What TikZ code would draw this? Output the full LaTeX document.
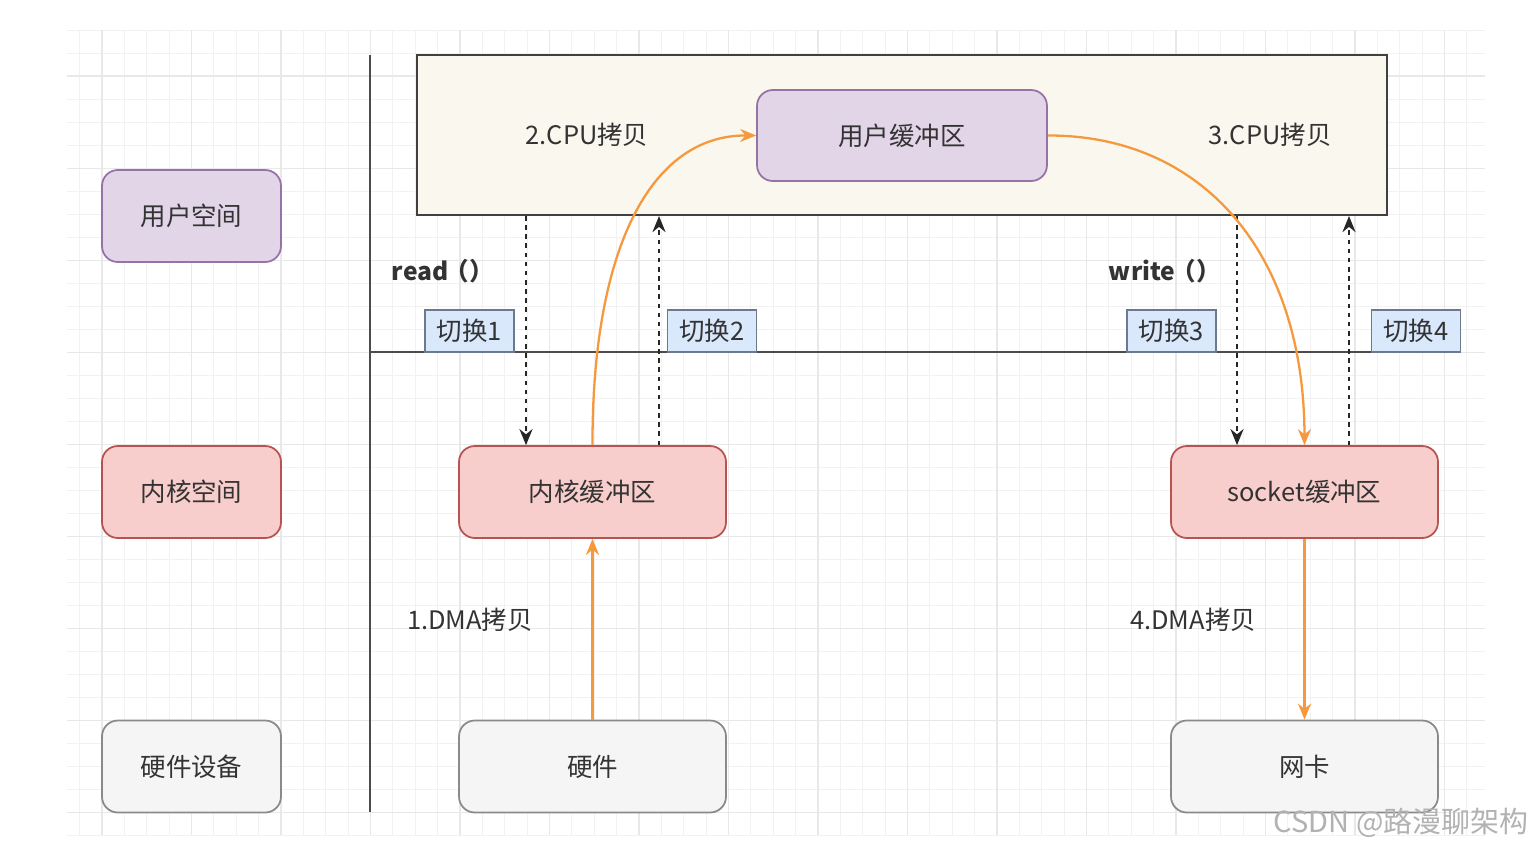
\documentclass[tikz,border=0pt]{standalone}
\usepackage{fontspec}
\setmainfont{Noto Sans CJK SC}
\usepackage{tikz}
\usetikzlibrary{arrows.meta}
\tikzset{>={Stealth[length=3.2mm,width=2.6mm]}}
\definecolor{userfill}{HTML}{E1D5E7}
\definecolor{userdraw}{HTML}{9673A6}
\definecolor{kernfill}{HTML}{F8CECC}
\definecolor{kerndraw}{HTML}{B85450}
\definecolor{hwfill}{HTML}{F5F5F5}
\definecolor{hwdraw}{HTML}{8A8A8A}
\definecolor{swfill}{HTML}{DAE8FC}
\definecolor{swdraw}{HTML}{6C7A8F}
\definecolor{bigfill}{HTML}{F9F7EE}
\definecolor{copyorange}{RGB}{246,152,60}
\definecolor{txt}{HTML}{333333}
\tikzset{
  box/.style={draw, rounded corners=9pt, line width=1pt, minimum height=1.84cm,
    font=\fontsize{14.5}{17}\selectfont, text=txt},
  userbox/.style={box, fill=userfill, draw=userdraw},
  kernbox/.style={box, fill=kernfill, draw=kerndraw},
  hwbox/.style={box, fill=hwfill, draw=hwdraw},
  swbox/.style={draw=swdraw, fill=swfill, line width=0.9pt, anchor=south,
    minimum width=1.78cm, minimum height=0.84cm, inner sep=0pt,
    font=\fontsize{14.5}{17}\selectfont, text=txt},
  lbl/.style={font=\fontsize{14.5}{17}\selectfont, text=txt},
  copyarrow/.style={->, draw=copyorange, line width=1.3pt},
  ctxarrow/.style={->, dash pattern=on 2.6pt off 2.6pt, line width=1.5pt, draw=black!85},
  minorgrid/.style={draw=black!5, line width=0.5pt},
  majorgrid/.style={draw=black!9, line width=0.6pt}
}

\begin{document}
\begin{tikzpicture}[x=0.02cm, y=-0.02cm]
\useasboundingbox (0,0) rectangle (1534,850);
\fill[white] (0,0) rectangle (1534,850);
% background grid
\foreach \i in {0,...,62}
    {\draw[minorgrid] ({79.6+22.375*\i},30) -- ({79.6+22.375*\i},835);}
\foreach \j in {0,...,35}
    {\draw[minorgrid] (67,{30+23.02*\j}) -- (1485,{30+23.02*\j});}
\foreach \i in {0,...,15}
    {\draw[majorgrid] ({102+89.5*\i},30) -- ({102+89.5*\i},835);}
\foreach \j in {0,...,8}
    {\draw[majorgrid] (67,{76+92.1*\j}) -- (1485,{76+92.1*\j});}

% axes
\draw[black!70, line width=1.3pt] (370,55) -- (370,812);
\draw[black!70, line width=1.3pt] (370,352) -- (1460,352);

% left column
\node[userbox, minimum width=3.58cm] (usr) at (191.5,216) {用户空间};
\node[kernbox, minimum width=3.58cm] (krn) at (191.5,492) {内核空间};
\node[hwbox, minimum width=3.58cm] (hwd) at (191.5,766.5) {硬件设备};

% user space frame
\node[draw=black!75, fill=bigfill, line width=1.2pt, minimum width=19.4cm,
    minimum height=3.2cm, inner sep=0pt] (ubox) at (902,135) {};
\node[userbox, minimum width=5.8cm, minimum height=1.82cm] (ubuf) at (902,135.5) {用户缓冲区};

% kernel and hardware
\node[kernbox, minimum width=5.34cm] (kbuf) at (592.5,492) {内核缓冲区};
\node[kernbox, minimum width=5.34cm] (sbuf) at (1304.5,492) {socket缓冲区};
\node[hwbox, minimum width=5.34cm] (hw) at (592.5,766.5) {硬件};
\node[hwbox, minimum width=5.34cm] (nic) at (1304.5,766.5) {网卡};

% context switches
\foreach \n/\x in {1/469.5, 2/712, 3/1171.5, 4/1416}
    {\node[swbox] (sw\n) at (\x,353) {切换\n};}

% labels
\node[lbl] (l2) at (587,135) {2.CPU拷贝};
\node[lbl] (l3) at (1270,135) {3.CPU拷贝};
\node[lbl, font=\fontsize{14}{17}\selectfont\bfseries] (rd) at (443,271) {read\hspace{-2pt}（）};
\node[lbl, font=\fontsize{14}{17}\selectfont\bfseries] (wr) at (1165,271) {write\hspace{-2pt}（）};
\node[lbl] (l1) at (470,620) {1.DMA拷贝};
\node[lbl] (l4) at (1193,620) {4.DMA拷贝};

% switch arrows
\coordinate (c1) at (526,0);
\coordinate (c2) at (659,0);
\coordinate (c3) at (1237,0);
\coordinate (c4) at (1349,0);
\draw[ctxarrow] (ubox.south -| c1) -- (kbuf.north -| c1);
\draw[ctxarrow] (kbuf.north -| c2) -- (ubox.south -| c2);
\draw[ctxarrow] (ubox.south -| c3) -- (sbuf.north -| c3);
\draw[ctxarrow] (sbuf.north -| c4) -- (ubox.south -| c4);

% copies
\draw[copyarrow] (hw.north) -- (kbuf.south);
\draw[copyarrow] (kbuf.north) .. controls (592,250) and (650,135) .. (ubuf.west);
\draw[copyarrow] (ubuf.east) .. controls (1200,135) and (1304,250) .. (sbuf.north);
\draw[copyarrow] (sbuf.south) -- (nic.north);

% watermark
\node[text=black!30, font=\fontsize{16.5}{19}\selectfont] (wm) at (1401,823) {CSDN @路漫聊架构};
\end{tikzpicture}
\end{document}
